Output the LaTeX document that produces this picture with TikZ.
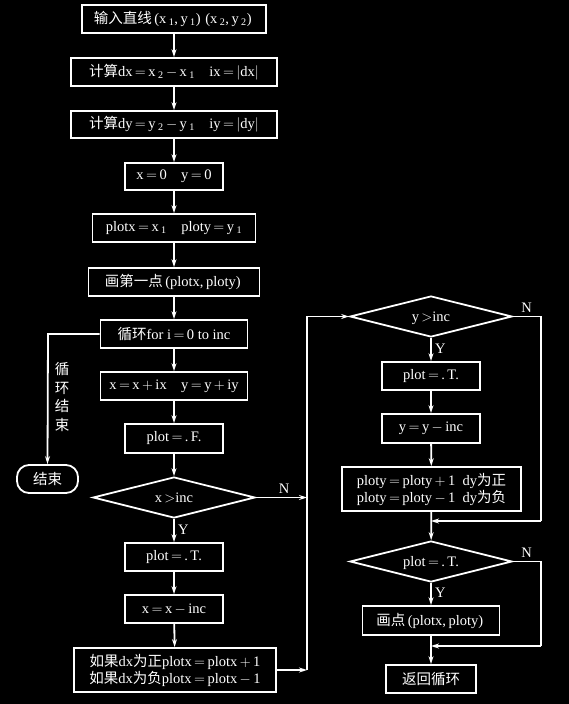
\documentclass[tikz,border=0pt]{standalone}
\usepackage{fontspec}
\setmainfont{Liberation Serif}
\newfontfamily\cjk{Noto Sans CJK SC}
\newcommand{\zh}[1]{{\cjk #1}}
\newcommand{\sub}[1]{\,\textsubscript{#1}}
\newcommand{\eq}{\,$=$\,}
\newcommand{\pl}{\,$+$\,}
\newcommand{\mi}{\,$-$\,}
\newcommand{\lp}{\,(}
\newcommand{\rp}{)\,}
\newcommand{\nobox}[1]{\makebox[0pt]{\smash{\raisebox{-4.5pt}{#1}}}}
\usetikzlibrary{shapes.geometric,arrows.meta}

\begin{document}
\begin{tikzpicture}[x=1pt,y=-1pt,
  every node/.style={text=white, font=\fontsize{14.5}{17}\selectfont},
  box/.style={draw=white, line width=1.8pt, minimum height=28pt, inner sep=0pt, align=center},
  dia/.style={draw=white, line width=1.8pt, diamond, inner sep=0pt, minimum width=162pt, minimum height=41pt},
  arr/.style={draw=white, line width=1.8pt, -{Stealth[length=8pt,width=5pt]}},
  line/.style={draw=white, line width=1.8pt}]
% Set the page
\fill[black] (0,0) rectangle (569,704);

% Left column
\node[box, minimum width=184pt] (in) at (174,19) {\zh{输入直线}\lp x\sub{1},\,y\sub{1}\rp\lp x\sub{2},\,y\sub{2}\rp};
\node[box, minimum width=206pt] (dx) at (174,72) {\zh{计算}dx\eq x\sub{2}\mi x\sub{1}\quad ix\eq$|$dx$|$};
\node[box, minimum width=206pt, minimum height=27pt] (dy) at (174,124.5) {\zh{计算}dy\eq y\sub{2}\mi y\sub{1}\quad iy\eq$|$dy$|$};
\node[box, minimum width=98pt, minimum height=27pt] (xy0) at (174,176.5) {x\eq 0\quad y\eq 0};
\node[box, minimum width=163pt] (plot1) at (174,228) {plotx\eq x\sub{1}\quad ploty\eq y\sub{1}};
\node[box, minimum width=171pt] (first) at (174,282) {\zh{画第一点}\lp plotx,\,ploty\rp};
\node[box, minimum width=147pt] (loop) at (174,334) {\zh{循环}for\ i\eq 0\ to\ inc};
\node[box, minimum width=147pt] (step) at (174,386) {x\eq x\pl ix\quad y\eq y\pl iy};
\node[box, minimum width=98pt, minimum height=29pt] (plotf) at (174,438.5) {plot\eq .\,F.};
\node[dia] (xinc) at (174,497.5) {\nobox{x\,$>$inc}};
\node[box, minimum width=98pt] (plott1) at (174,557) {plot\eq .\,T.};
\node[box, minimum width=98pt] (xdec) at (174,609) {x\eq x\mi inc};
\node[box, minimum width=202pt, minimum height=44pt] (plotx) at (175,670) {\zh{如果}dx\zh{为正}plotx\eq plotx\pl 1\\\zh{如果}dx\zh{为负}plotx\eq plotx\mi 1};
\node[box, rounded corners=12pt, minimum width=61pt] (end) at (47.5,479) {\zh{结束}};
\node[align=center, font=\fontsize{14.5}{18.5}\selectfont] (done) at (62,397) {\zh{循}\\\zh{环}\\\zh{结}\\\zh{束}};

% Right column
\node[dia] (yinc) at (431,316.5) {\nobox{y\,$>$inc}};
\node[box, minimum width=98pt] (plott2) at (431,376) {plot\eq .\,T.};
\node[box, minimum width=98pt, minimum height=29pt] (ydec) at (431,428.5) {y\eq y\mi inc};
\node[box, minimum width=179pt, minimum height=44pt] (ploty) at (431.5,489) {ploty\eq ploty\pl 1\ \ dy\zh{为正}\\ploty\eq ploty\mi 1\ \ dy\zh{为负}};
\node[dia] (pt) at (431,561.5) {\nobox{plot\eq .\,T.}};
\node[box, minimum width=137pt, minimum height=29pt] (dot) at (431,620.5) {\zh{画点}\lp plotx,\,ploty\rp};
\node[box, minimum width=90pt] (ret) at (431,679) {\zh{返回循环}};

% Corners and joins
\coordinate (c1) at (48,334);
\coordinate (c2) at (307,670);
\coordinate (c3) at (307,316.5);
\coordinate (c4) at (541,316.5);
\coordinate (c5) at (541,521);
\coordinate (j1) at (431,521);
\coordinate (c6) at (541,561.5);
\coordinate (c7) at (541,646);
\coordinate (j2) at (431,646);

% Left arrows
\draw[arr] (in) -- (dx);
\draw[arr] (dx) -- (dy);
\draw[arr] (dy) -- (xy0);
\draw[arr] (xy0) -- (plot1);
\draw[arr] (plot1) -- (first);
\draw[arr] (first) -- (loop);
\draw[arr] (loop) -- (step);
\draw[arr] (step) -- (plotf);
\draw[arr] (plotf) -- (xinc);
\draw[arr] (xinc) -- node[right, pos=0.45] {Y} (plott1);
\draw[arr] (plott1) -- (xdec);
\draw[arr] (xdec) -- (plotx);
\draw[arr] (loop.west) -- (c1) -- (end.north);
\draw[arr] (xinc.east) -- node[above, pos=0.55] {N} (c2 |- xinc.east);
\draw[arr] (plotx.east) -- (c2);
\draw[arr] (c2) -- (c3) -- (yinc.west);

% Right arrows
\draw[arr] (yinc) -- node[right, pos=0.45] {Y} (plott2);
\draw[arr] (plott2) -- (ydec);
\draw[arr] (ydec) -- (ploty);
\draw[arr] (ploty) -- (pt);
\draw[line] (yinc.east) -- node[above right, pos=0.15] {N} (c4) -- (c5);
\draw[arr] (c5) -- (j1);
\draw[arr] (pt) -- node[right, pos=0.45] {Y} (dot);
\draw[arr] (dot) -- (ret);
\draw[line] (pt.east) -- node[above right, pos=0.15] {N} (c6) -- (c7);
\draw[arr] (c7) -- (j2);
\end{tikzpicture}
\end{document}
